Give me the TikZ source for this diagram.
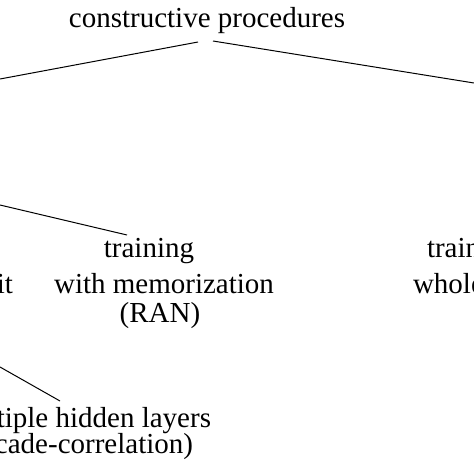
\documentclass[tikz,border=0pt]{standalone}
\usepackage{fontspec}
\setmainfont{Liberation Serif}
\begin{document}
\begin{tikzpicture}[x=1pt,y=-1pt,
  lbl/.style={inner sep=0pt,outer sep=0pt,font=\fontsize{29}{34}\selectfont},
  conn/.style={line width=1pt}]
\useasboundingbox (0,0) rectangle (474,474);
\clip (0,0) rectangle (474,474);
% texts
\node[lbl,anchor=base] (root) at (207,27) {constructive procedures};
\node[lbl,anchor=base] (tr) at (149,257) {training};
\node[lbl,anchor=base] (wm) at (164,293) {with memorization};
\node[lbl,anchor=base] (ran) at (160,322) {(RAN)};
\node[lbl,anchor=base east] (unit) at (13,293) {unit};
\node[lbl,anchor=base west] (tr2) at (427,257) {training};
\node[lbl,anchor=base west] (whole) at (413,293) {whole};
\node[lbl,anchor=base east] (mhl) at (211,427) {multiple hidden layers};
\node[lbl,anchor=base east] (cc) at (193,453) {(cascade-correlation)};
% connector end points
\coordinate (rootL) at (198,42);
\coordinate (rootR) at (213,41);
\coordinate (farL) at (0,79);
\coordinate (farR) at (474,83);
\coordinate (midL) at (0,205);
\coordinate (trTop) at (127,235);
\coordinate (lowL) at (0,367);
\coordinate (mhlTop) at (60,401);
% connectors
\draw[conn] (rootL) -- (farL);
\draw[conn] (rootR) -- (farR);
\draw[conn] (midL) -- (trTop);
\draw[conn] (lowL) -- (mhlTop);
\end{tikzpicture}
\end{document}
